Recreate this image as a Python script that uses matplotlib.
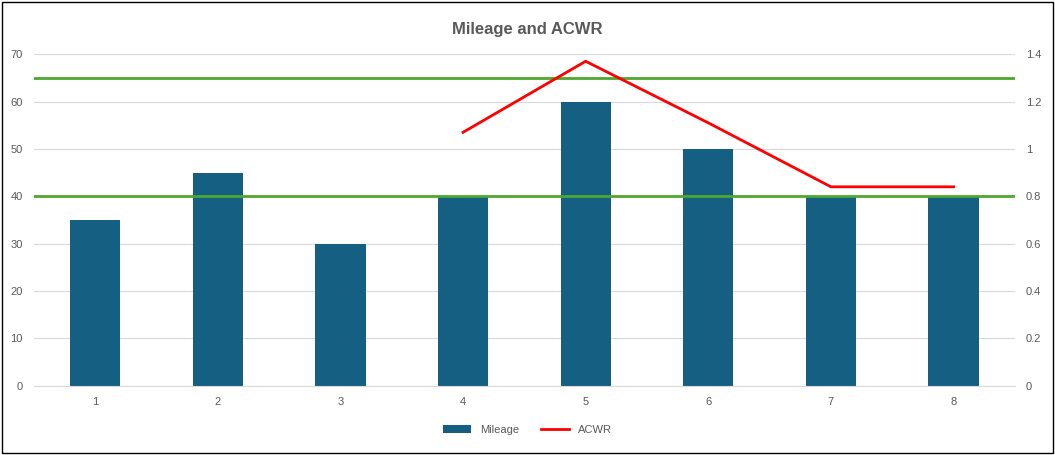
import matplotlib
matplotlib.use("Agg")
import matplotlib.pyplot as plt
from matplotlib.patches import Rectangle

weeks = [1, 2, 3, 4, 5, 6, 7, 8]
mileage = [35, 45, 30, 40, 60, 50, 40, 40]
acwr_weeks = [4, 5, 6, 7, 8]
acwr = [1.07, 1.37, 1.11, 0.84, 0.84]
upper_limit = 1.3
lower_limit = 0.8

plt.rcParams["font.family"] = ["Liberation Sans", "DejaVu Sans"]
fig = plt.figure(figsize=(10.55, 4.55), dpi=100)
ax = fig.add_axes([0.032, 0.152, 0.930, 0.729])
ax2 = ax.twinx()

ax.set_axisbelow(True)
ax.grid(True, axis="y", color="#D9D9D9", lw=0.8)
ax.bar(weeks, mileage, width=0.41, color="#156082", label="Mileage", zorder=2)
ax.set_xlim(0.5, 8.5)
ax.set_ylim(0, 70)
ax.set_yticks(range(0, 71, 10))
ax.set_xticks(weeks)

ax2.plot(acwr_weeks, acwr, color="#FF0000", lw=2, label="ACWR", zorder=3)
ax2.axhline(upper_limit, color="#4EA72E", lw=2)
ax2.axhline(lower_limit, color="#4EA72E", lw=2)
ax2.set_ylim(0, 1.4)
ax2.set_yticks([0, 0.2, 0.4, 0.6, 0.8, 1, 1.2, 1.4])
ax2.set_yticklabels(["0", "0.2", "0.4", "0.6", "0.8", "1", "1.2", "1.4"])

for a in (ax, ax2):
    for s in a.spines.values():
        s.set_visible(False)
    a.tick_params(length=0, labelsize=8, colors="#595959", pad=8)
ax.spines["bottom"].set_visible(True)
ax.spines["bottom"].set_color("#D9D9D9")

fig.text(0.5, 0.935, "Mileage and ACWR", ha="center", va="center",
         fontsize=12, fontweight="bold", color="#595959")

h1, l1 = ax.get_legend_handles_labels()
h2, l2 = ax2.get_legend_handles_labels()
fig.legend(h1 + h2, l1 + l2, loc="center", bbox_to_anchor=(0.5, 0.055), ncol=2,
           frameon=False, fontsize=8, labelcolor="#595959", handlelength=2.5)

fig.patches.append(Rectangle((0.002, 0.004), 0.996, 0.992, transform=fig.transFigure,
                             fill=False, edgecolor="black", lw=1))
fig.savefig("out.png", dpi=100)
